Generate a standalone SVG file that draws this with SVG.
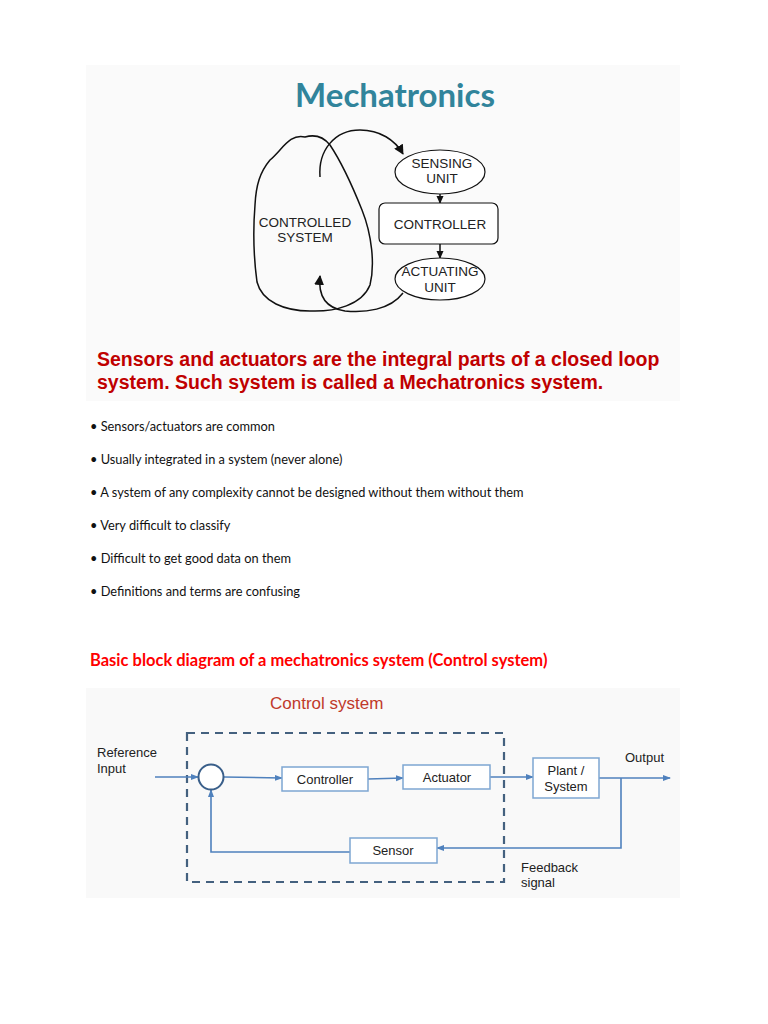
<svg xmlns="http://www.w3.org/2000/svg" width="768" height="1024" viewBox="0 0 768 1024">
<style>
.hd{font-family:"Liberation Sans",Arial,sans-serif;fill:#222;font-size:13.5px;text-anchor:middle}
.bl{font-family:Lato,"Open Sans",sans-serif;fill:#111;font-size:12.8px}
.bx{fill:#fff;stroke:#7ea6d2;stroke-width:1.5}
.ln{fill:none;stroke:#4f81bd;stroke-width:1.6}
.lb{font-family:"Liberation Sans",Arial,sans-serif;fill:#222;font-size:13px}
.blk{fill:none;stroke:#111;stroke-width:1.5}
</style>
<defs>
<marker id="ah" markerWidth="10" markerHeight="10" refX="9" refY="5" orient="auto" markerUnits="userSpaceOnUse"><path d="M0,0 L10,5 L0,10 Z" fill="#111"/></marker>
<marker id="as" markerWidth="8" markerHeight="8" refX="7" refY="4" orient="auto" markerUnits="userSpaceOnUse"><path d="M0,0.5 L8,4 L0,7.5 Z" fill="#111"/></marker>
<marker id="ab" markerWidth="8" markerHeight="8" refX="7" refY="4" orient="auto" markerUnits="userSpaceOnUse"><path d="M0,1 L8,4 L0,7 Z" fill="#4f81bd"/></marker>
</defs>
<rect width="768" height="1024" fill="#fff"/>
<rect x="86" y="65" width="594" height="336" fill="#fafafa"/>
<rect x="86" y="688" width="594" height="210" fill="#f9f9f9"/>

<text x="395" y="107" font-family="Lato,'Open Sans',sans-serif" font-weight="bold" font-size="33" fill="#31849b" text-anchor="middle">Mechatronics</text>

<g id="connectors-top">
<path class="blk" d="M 320 177 C 318 150, 335 130, 360 130 C 380 130, 395 140, 403 154" marker-end="url(#ah)"/>
<path class="blk" d="M 403 293 C 390 310, 365 313, 345 311 C 325 308, 318 295, 320 276" marker-end="url(#ah)"/>
<line class="blk" x1="440" y1="194" x2="440" y2="203" stroke-width="1" marker-end="url(#as)"/>
<line class="blk" x1="440" y1="244" x2="440" y2="258" stroke-width="1" marker-end="url(#as)"/>
</g>
<g id="controlled-system">
<path class="blk" d="M 305 137 C 290 133, 282 150, 270 160 C 260 172, 256 185, 255 205 C 253 230, 254 260, 257 282 C 262 302, 285 311, 310 311 C 335 312, 362 305, 370 285 C 375 265, 372 235, 362 210 C 352 185, 340 160, 330 145 C 322 135, 312 135, 305 137 Z"/>
<text class="hd" x="305" y="227">CONTROLLED</text>
<text class="hd" x="305" y="242">SYSTEM</text>
</g>
<g id="sensing-unit">
<ellipse cx="440" cy="172" rx="45" ry="22" fill="#fff" stroke="#111" stroke-width="1.2"/>
<text class="hd" x="442" y="168">SENSING</text>
<text class="hd" x="442" y="183">UNIT</text>
</g>
<g id="controller-top">
<rect x="379" y="203" width="119" height="41" rx="6" fill="#fff" stroke="#111" stroke-width="1.2"/>
<text class="hd" x="440" y="229">CONTROLLER</text>
</g>
<g id="actuating-unit">
<ellipse cx="440" cy="279" rx="45" ry="21" fill="#fff" stroke="#111" stroke-width="1.2"/>
<text class="hd" x="440" y="276">ACTUATING</text>
<text class="hd" x="440" y="292">UNIT</text>
</g>

<text font-family="'Liberation Sans',Arial,sans-serif" font-weight="bold" font-size="19.5" fill="#c00000"><tspan x="97" y="366">Sensors and actuators are the integral parts of a closed loop</tspan><tspan x="97" y="389">system. Such system is called a Mechatronics system.</tspan></text>

<g id="bullets">
<text class="bl" x="90" y="431">• Sensors/actuators are common</text>
<text class="bl" x="90" y="464">• Usually integrated in a system (never alone)</text>
<text class="bl" x="90" y="497">• A system of any complexity cannot be designed without them without them</text>
<text class="bl" x="90" y="530">• Very difficult to classify</text>
<text class="bl" x="90" y="563">• Difficult to get good data on them</text>
<text class="bl" x="90" y="596">• Definitions and terms are confusing</text>
</g>

<text x="90" y="666" font-family="Lato,'Open Sans',sans-serif" font-weight="bold" font-size="16.5" fill="#ff0000">Basic block diagram of a mechatronics system (Control system)</text>

<text x="270" y="709" font-family="'Liberation Sans',Arial,sans-serif" font-size="17" fill="#c0392b">Control system</text>
<rect id="control-system-boundary" x="187" y="733" width="317" height="149" fill="none" stroke="#44617f" stroke-width="2.2" stroke-dasharray="8 6"/>

<g id="connectors">
<line class="ln" x1="155" y1="777" x2="198" y2="777" marker-end="url(#ab)"/>
<line class="ln" x1="224" y1="777" x2="282" y2="778" marker-end="url(#ab)"/>
<line class="ln" x1="368" y1="779" x2="403" y2="778" marker-end="url(#ab)"/>
<line class="ln" x1="490" y1="777" x2="533" y2="777" marker-end="url(#ab)"/>
<line class="ln" x1="599" y1="778" x2="670" y2="778" marker-end="url(#ab)"/>
<polyline class="ln" points="621,778 621,848 437,848" marker-end="url(#ab)"/>
<polyline class="ln" points="350,852 211,852 211,790" marker-end="url(#ab)"/>
</g>
<g id="summing-junction">
<circle cx="211" cy="777" r="12.5" fill="#fff" stroke="#3a5f8a" stroke-width="2"/>
</g>
<g id="controller">
<rect class="bx" x="282" y="767" width="86" height="24"/>
<text class="lb" x="325" y="784" text-anchor="middle">Controller</text>
</g>
<g id="actuator">
<rect class="bx" x="403" y="765" width="87" height="24"/>
<text class="lb" x="447" y="782" text-anchor="middle">Actuator</text>
</g>
<g id="plant">
<rect class="bx" x="533" y="758" width="66" height="40"/>
<text class="lb" x="566" y="775" text-anchor="middle">Plant /</text>
<text class="lb" x="566" y="791" text-anchor="middle">System</text>
</g>
<g id="sensor">
<rect class="bx" x="350" y="838" width="87" height="25"/>
<text class="lb" x="393" y="855" text-anchor="middle">Sensor</text>
</g>
<g id="labels">
<text class="lb" x="97" y="757">Reference</text>
<text class="lb" x="97" y="773">Input</text>
<text class="lb" x="625" y="762">Output</text>
<text class="lb" x="521" y="872">Feedback</text>
<text class="lb" x="521" y="887">signal</text>
</g>
</svg>
